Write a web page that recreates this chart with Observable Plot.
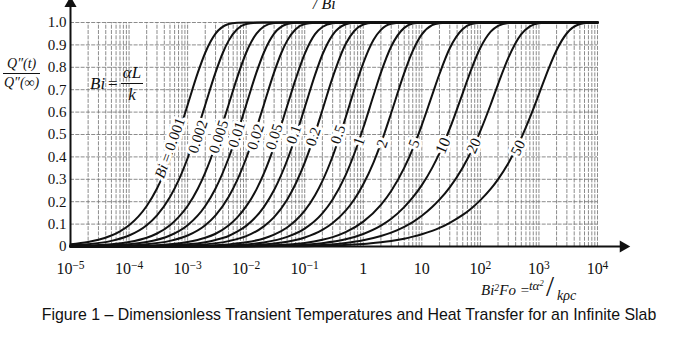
<!DOCTYPE html>
<html><head><meta charset="utf-8">
<script src="https://cdn.jsdelivr.net/npm/d3@7"></script>
<script src="https://cdn.jsdelivr.net/npm/@observablehq/plot@0.6"></script>
<style>
body{margin:0;background:#fff;}
#wrap{position:relative;width:675px;height:344px;overflow:hidden;font-family:"Liberation Serif","Times New Roman",serif;color:#111;}
#wrap svg{position:absolute;left:0;top:0;}
.ov{position:absolute;white-space:nowrap;line-height:1;}
.it{font-style:italic;}
</style></head><body><div id="wrap"></div>
<script>
// ---- data ----
const biValues = [0.001,0.002,0.005,0.01,0.02,0.05,0.1,0.2,0.5,1,2,5,10,20,50];
const biLabels = ["Bi = 0.001","0.002","0.005","0.01","0.02","0.05","0.1","0.2","0.5","1","2","5","10","20","50"];

const curveBi0_001 = [[1e-5,0.010],[2e-5,0.020],[3e-5,0.030],[5e-5,0.049],[7e-5,0.068],[1e-4,0.095],[2e-4,0.181],[3e-4,0.259],[5e-4,0.394],[7e-4,0.503],[1e-3,0.632],[1.5e-3,0.777],[2e-3,0.865],[3e-3,0.950],[5e-3,0.993],[7e-3,0.999],[1e-2,1],[1e4,1]];
const curveBi0_002 = [[1e-5,0.005],[2e-5,0.010],[5e-5,0.025],[1e-4,0.049],[2e-4,0.095],[3e-4,0.139],[5e-4,0.221],[7e-4,0.295],[1e-3,0.394],[1.5e-3,0.528],[2e-3,0.632],[3e-3,0.777],[4e-3,0.865],[5e-3,0.918],[7e-3,0.970],[1e-2,0.993],[1.5e-2,0.999],[2e-2,1],[1e4,1]];
const curveBi0_005 = [[1e-5,0.002],[5e-5,0.010],[1e-4,0.020],[2e-4,0.039],[3e-4,0.058],[5e-4,0.095],[7e-4,0.131],[1e-3,0.181],[1.5e-3,0.259],[2e-3,0.330],[3e-3,0.451],[5e-3,0.632],[7e-3,0.753],[1e-2,0.865],[1.5e-2,0.950],[2e-2,0.982],[3e-2,0.998],[5e-2,1],[1e4,1]];
const curveBi0_01 = [[1e-5,0.001],[1e-4,0.010],[2e-4,0.020],[5e-4,0.049],[1e-3,0.095],[2e-3,0.181],[3e-3,0.259],[5e-3,0.394],[7e-3,0.503],[1e-2,0.632],[1.5e-2,0.777],[2e-2,0.865],[3e-2,0.950],[5e-2,0.993],[7e-2,0.999],[1e-1,1],[1e4,1]];
const curveBi0_02 = [[1e-5,0.0005],[1e-4,0.005],[2e-4,0.010],[5e-4,0.025],[1e-3,0.049],[2e-3,0.095],[3e-3,0.139],[5e-3,0.221],[7e-3,0.295],[1e-2,0.394],[1.5e-2,0.528],[2e-2,0.632],[3e-2,0.777],[4e-2,0.865],[5e-2,0.918],[7e-2,0.970],[1e-1,0.993],[1.5e-1,0.999],[2e-1,1],[1e4,1]];
const curveBi0_05 = [[1e-5,0.0002],[1e-4,0.002],[5e-4,0.010],[1e-3,0.020],[2e-3,0.039],[3e-3,0.057],[5e-3,0.094],[7e-3,0.129],[1e-2,0.179],[1.5e-2,0.255],[2e-2,0.325],[3e-2,0.446],[5e-2,0.626],[7e-2,0.747],[1e-1,0.860],[1.5e-1,0.948],[2e-1,0.980],[3e-1,0.997],[5e-1,1],[1e4,1]];
const curveBi0_1 = [[1e-5,0.0001],[1e-4,0.001],[1e-3,0.010],[2e-3,0.019],[3e-3,0.029],[5e-3,0.047],[7e-3,0.066],[1e-2,0.092],[2e-2,0.176],[3e-2,0.252],[5e-2,0.384],[7e-2,0.492],[1e-1,0.620],[1.5e-1,0.766],[2e-1,0.856],[3e-1,0.945],[5e-1,0.992],[7e-1,0.999],[1,1],[1e4,1]];
const curveBi0_2 = [[1e-5,0.00005],[1e-4,0.0005],[1e-3,0.005],[2e-3,0.0095],[5e-3,0.024],[1e-2,0.046],[2e-2,0.090],[3e-2,0.131],[5e-2,0.209],[7e-2,0.280],[1e-1,0.374],[1.5e-1,0.505],[2e-1,0.608],[3e-1,0.755],[5e-1,0.904],[7e-1,0.962],[1,0.991],[1.5,0.999],[2,1],[1e4,1]];
const curveBi0_5 = [[1e-5,0.00002],[1e-4,0.0002],[1e-3,0.002],[5e-3,0.0095],[1e-2,0.0186],[2e-2,0.036],[3e-2,0.053],[5e-2,0.085],[7e-2,0.116],[1e-1,0.160],[1.5e-1,0.229],[2e-1,0.292],[3e-1,0.403],[5e-1,0.576],[7e-1,0.699],[1,0.819],[1.5,0.923],[2,0.967],[3,0.994],[5,1],[1e4,1]];
const curveBi1 = [[1e-5,0.00001],[1e-3,0.001],[5e-3,0.0048],[1e-2,0.0093],[2e-2,0.018],[5e-2,0.043],[1e-1,0.080],[2e-1,0.148],[3e-1,0.210],[5e-1,0.319],[7e-1,0.413],[1,0.530],[1.5,0.675],[2,0.776],[3,0.893],[5,0.976],[7,0.995],[10,0.999],[15,1],[1e4,1]];
const curveBi2 = [[1e-5,0],[1e-3,0.0005],[1e-2,0.0047],[5e-2,0.021],[1e-1,0.040],[2e-1,0.074],[3e-1,0.105],[5e-1,0.160],[7e-1,0.210],[1,0.278],[1.5,0.376],[2,0.460],[3,0.596],[5,0.774],[7,0.873],[10,0.947],[15,0.988],[20,0.997],[30,1],[1e4,1]];
const curveBi5 = [[1e-5,0],[1e-3,0.0002],[1e-2,0.0019],[5e-2,0.0085],[1e-1,0.016],[2e-1,0.030],[3e-1,0.042],[5e-1,0.064],[1,0.111],[2,0.186],[3,0.248],[5,0.351],[7,0.436],[10,0.542],[15,0.676],[20,0.770],[30,0.885],[50,0.971],[70,0.993],[100,0.999],[150,1],[1e4,1]];
const curveBi10 = [[1e-5,0],[1e-2,0.0009],[5e-2,0.0043],[1e-1,0.008],[2e-1,0.015],[5e-1,0.032],[1,0.056],[2,0.093],[3,0.124],[5,0.176],[7,0.219],[10,0.274],[15,0.351],[20,0.417],[30,0.526],[50,0.685],[70,0.791],[100,0.887],[150,0.959],[200,0.985],[300,0.998],[500,1],[1e4,1]];
const curveBi20 = [[1e-5,0],[1e-2,0.0005],[1e-1,0.004],[5e-1,0.016],[1,0.028],[2,0.047],[3,0.062],[5,0.088],[7,0.109],[10,0.137],[15,0.176],[20,0.209],[30,0.264],[50,0.353],[70,0.425],[100,0.516],[150,0.634],[200,0.724],[300,0.842],[500,0.948],[700,0.983],[1000,0.997],[1500,1],[1e4,1]];
const curveBi50 = [[1e-5,0],[1e-1,0.0016],[1,0.011],[2,0.019],[3,0.025],[5,0.035],[7,0.044],[10,0.055],[15,0.070],[20,0.083],[30,0.106],[50,0.141],[70,0.170],[100,0.207],[150,0.257],[200,0.300],[300,0.372],[500,0.485],[700,0.575],[1000,0.680],[1500,0.801],[2000,0.876],[3000,0.952],[5000,0.993],[7000,0.999],[1e4,1]];

// where each curve label sits (x, y)
const labelX = [5.0e-4,1.5e-3,3.4e-3,6.9e-3,1.45e-2,3.0e-2,6.5e-2,0.14,0.37,0.84,2.1,7.4,23,77,440];
const labelY = [0.44,0.49,0.49,0.50,0.49,0.49,0.50,0.49,0.50,0.47,0.46,0.46,0.45,0.45,0.44];

const xTickValues = [1e-5,1e-4,1e-3,1e-2,1e-1,1,10,100,1000,10000];
const xTickLabels = ["10^-5","10^-4","10^-3","10^-2","10^-1","1","10","10^2","10^3","10^4"];
const yTickValues = [0,0.1,0.2,0.3,0.4,0.5,0.6,0.7,0.8,0.9,1.0];
const yTickLabels = ["0","0.1","0.2","0.3","0.4","0.5","0.6","0.7","0.8","0.9","1.0"];
const gridDecades = [1e-5,1e-4,1e-3,1e-2,1e-1,1,10,100,1000];
const gridMantissas = [1,2,3,4,5,6,7,8,9];
const gridYValues = [0.1,0.2,0.3,0.4,0.5,0.6,0.7,0.8,0.9,1.0];

// ---- build ----
const curves = [curveBi0_001,curveBi0_002,curveBi0_005,curveBi0_01,curveBi0_02,curveBi0_05,curveBi0_1,curveBi0_2,curveBi0_5,curveBi1,curveBi2,curveBi5,curveBi10,curveBi20,curveBi50];
const rows = curves.flatMap((pts, i) => pts.map(([x, y]) => ({bi: biValues[i], x, y})));
const labelAngles = [-70,-72,-72,-72,-72,-72,-71,-71,-71,-71,-70,-69,-67,-66,-63];
const labels = biLabels.map((t, i) => ({text: t, x: labelX[i], y: labelY[i], a: labelAngles[i]}));
const gridX = gridDecades.flatMap(d => gridMantissas.map(m => m * d)).concat([xTickValues[xTickValues.length - 1]]);
const xMin = xTickValues[0], xMax = xTickValues[xTickValues.length - 1];

const gridStyle = {stroke: "#777", strokeWidth: 0.85, strokeDasharray: "4,1.3"};

const chart = Plot.plot({
  width: 675, height: 344,
  marginLeft: 70, marginRight: 78, marginTop: 22, marginBottom: 98,
  style: {fontFamily: "'Liberation Serif', 'Times New Roman', serif", fontSize: "15px", color: "#111", background: "transparent"},
  x: {type: "log", domain: [xMin, xMax], ticks: xTickValues, tickFormat: v => xTickLabels[xTickValues.indexOf(v)] ?? "", tickSize: 0, tickPadding: 16, label: null},
  y: {domain: [0, 1], ticks: yTickValues, tickFormat: v => yTickLabels[yTickValues.indexOf(v)] ?? "", tickSize: 0, tickPadding: 4, label: null},
  marks: [
    Plot.ruleX(gridX, {y1: 0, y2: 1, ...gridStyle}),
    Plot.ruleY(gridYValues, {x1: xMin, x2: xMax, ...gridStyle}),
    Plot.line(rows, {x: "x", y: "y", z: "bi", stroke: "#111", strokeWidth: 2, curve: "monotone-x"}),
    Plot.text(labels, {x: "x", y: "y", text: "text", rotate: "a", fill: "#111", stroke: "white", strokeWidth: 6, fontSize: 15}),
    Plot.ruleY([0], {x1: xMin, x2: 2.8e4, stroke: "#111", strokeWidth: 2}),
    Plot.ruleX([xMin], {y1: 0, y2: 1.08, stroke: "#111", strokeWidth: 2}),
    Plot.dot([{x: 2.75e4, y: 0}], {x: "x", y: "y", symbol: "triangle", r: 4.5, fill: "#111", rotate: 90}),
    Plot.dot([{x: xMin, y: 1.085}], {x: "x", y: "y", symbol: "triangle", r: 4.5, fill: "#111"})
  ]
});

const wrap = document.getElementById("wrap");
wrap.appendChild(chart);

// superscripts in the x tick labels, italic Bi in the first curve label
d3.select(chart).selectAll("text").each(function() {
  const t = this.textContent;
  if (xTickLabels.includes(t)) {
    this.setAttribute("font-size", "16px");
    if (t.includes("^")) {
      const [base, exp] = t.split("^");
      const el = d3.select(this);
      el.text(null);
      el.append("tspan").text(base);
      el.append("tspan").attr("dy", "-0.42em").attr("font-size", "0.72em").text(exp.replace("-", "\u2212"));
    }
  } else if (t === biLabels[0]) {
    const el = d3.select(this);
    el.text(null);
    el.append("tspan").attr("font-style", "italic").text("Bi");
    el.append("tspan").text(" = 0.001");
  }
});

// overlay texts
wrap.insertAdjacentHTML("beforeend", `
<div class="ov it" style="left:313px;top:-4px;font-size:16px;">/ Bi</div>
<div class="ov" style="left:3px;top:57px;font-size:14px;text-align:center;">
  <div class="it" style="padding:0 1px 2px;">Q″(t)</div>
  <div class="it" style="border-top:1.3px solid #111;padding:2px 1px 0;">Q″(∞)</div>
</div>
<div class="ov" style="left:90px;top:64px;font-size:17px;display:flex;align-items:center;">
  <span class="it">Bi</span><span style="margin:0 3px;">=</span>
  <span style="display:inline-flex;flex-direction:column;align-items:center;">
    <span class="it" style="padding:0 2px 2px;">αL</span>
    <span class="it" style="border-top:1.2px solid #111;padding:2px 2px 0;align-self:stretch;text-align:center;">k</span>
  </span>
</div>
<div class="ov it" style="left:481px;top:283px;font-size:15px;">Bi<span style="font-size:0.65em;vertical-align:0.45em;">2</span>Fo =</div>
<div class="ov it" style="left:529px;top:279px;font-size:13px;">tα<span style="font-size:0.65em;vertical-align:0.45em;">2</span></div>
<div class="ov" style="left:546px;top:272px;font-size:29px;">/</div>
<div class="ov it" style="left:557px;top:289px;font-size:14px;">kρc</div>
<div class="ov" style="left:0;width:698px;text-align:center;top:307px;font-family:'Liberation Sans',Arial,sans-serif;font-size:15.9px;color:#111;">Figure 1 – Dimensionless Transient Temperatures and Heat Transfer for an Infinite Slab</div>
`);
</script></body></html>
